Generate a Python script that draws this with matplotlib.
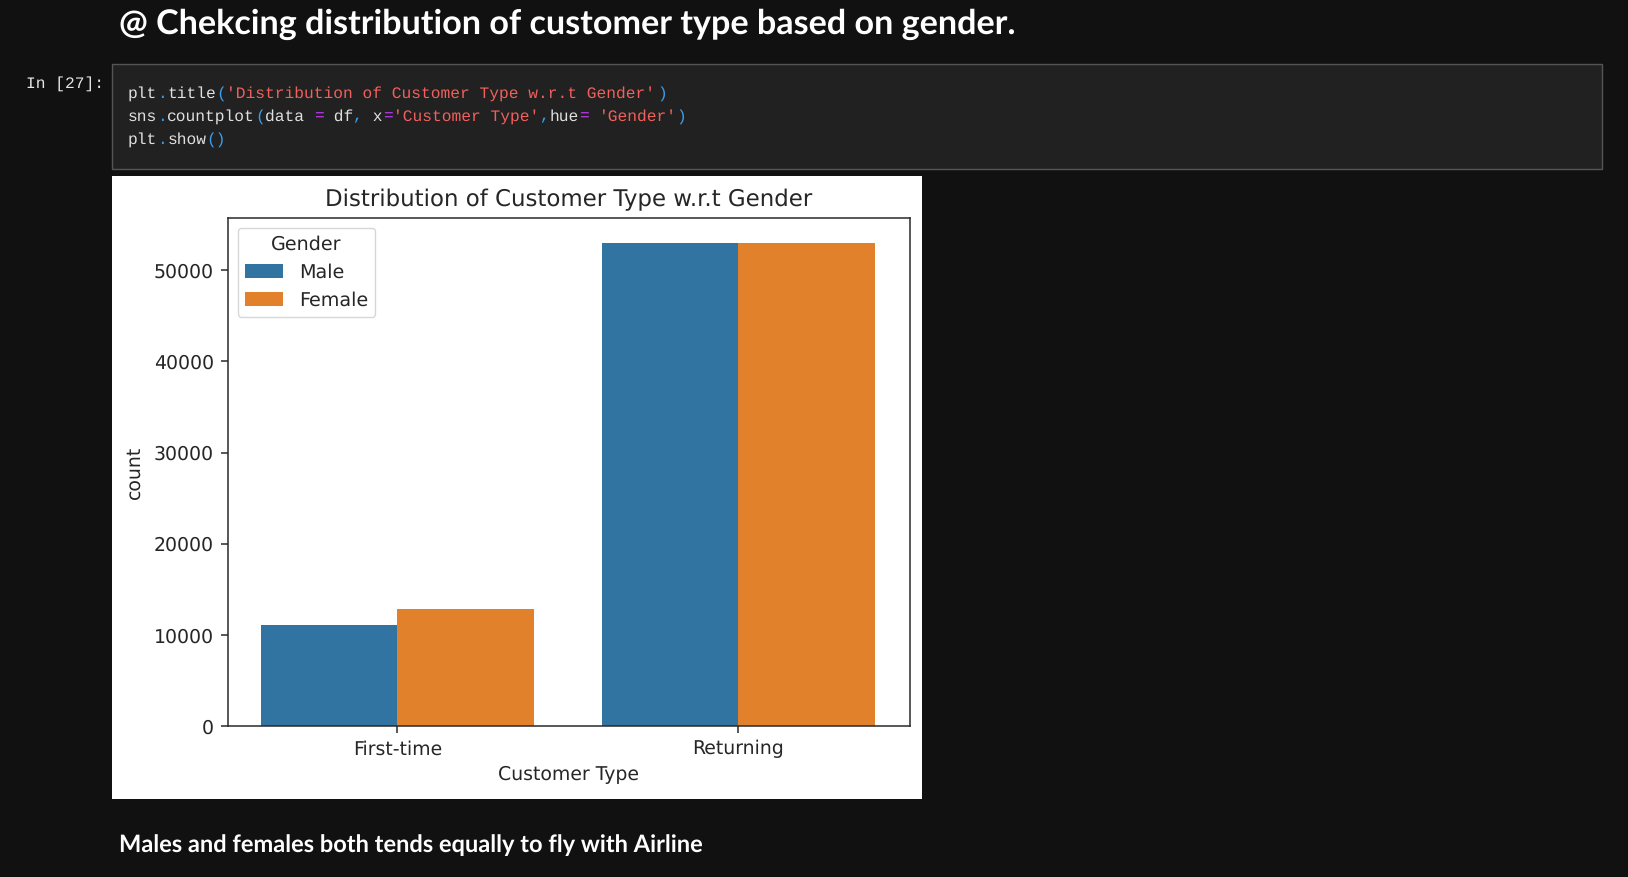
import matplotlib
matplotlib.use('Agg')
import matplotlib.pyplot as plt
from matplotlib.patches import Rectangle
import numpy as np

plt.rcParams['text.hinting'] = 'no_hinting'

# Sample data
customer_types = ['First-time', 'Returning']
male_counts = [11050, 53000]
female_counts = [12800, 53000]
y_ticks = [0, 10000, 20000, 30000, 40000, 50000]

heading = '@ Chekcing distribution of customer type based on gender.'
comment = 'Males and females both tends equally to fly with Airline'

TXT = '#e0e0e0'
BLUE = '#3b9eea'
RED = '#f0605c'
PURPLE = '#c23cf5'
INK = '#262626'

# code cell, split in (text, colour) tokens
code_lines = [
    [('plt', TXT), ('.', BLUE), ('title', TXT), ('(', BLUE),
     ("'Distribution of Customer Type w.r.t Gender'", RED), (')', BLUE)],
    [('sns', TXT), ('.', BLUE), ('countplot', TXT), ('(', BLUE), ('data ', TXT), ('=', PURPLE),
     (' df', TXT), (',', BLUE), (' x', TXT), ('=', PURPLE), ("'Customer Type'", RED), (',', BLUE),
     ('hue', TXT), ('=', PURPLE), (' ', TXT), ("'Gender'", RED), (')', BLUE)],
    [('plt', TXT), ('.', BLUE), ('show', TXT), ('()', BLUE)],
]

W, H = 1628, 877
fig = plt.figure(figsize=(W / 100, H / 100), dpi=100, facecolor='#111111')


def draw_page():
    """Notebook page around the chart, in pixel coordinates."""
    page = fig.add_axes([0, 0, 1, 1])
    page.set_xlim(0, W)
    page.set_ylim(H, 0)
    page.axis('off')

    page.add_patch(Rectangle((112, 64), 1490, 105, facecolor='#212121', edgecolor='#555555', lw=1))
    page.add_patch(Rectangle((112, 176), 810, 623, facecolor='white', edgecolor='none'))

    page.text(119, 24, heading, color='white', fontsize=24.6, family='Lato',
              fontweight='bold', va='center')
    page.text(119, 845, comment, color='white', fontsize=17, family='Lato',
              fontweight='bold', va='center')
    page.text(26, 84, 'In [27]:', color='#e6e6e6', fontsize=11.7, family='Liberation Mono', va='center')

    char_w = 9.8
    for line, y in zip(code_lines, [94, 116.5, 139.5]):
        x = 128
        for token, colour in line:
            page.text(x, y, token, color=colour, fontsize=11.7, family='Liberation Mono', va='center')
            x += len(token) * char_w


def draw_chart():
    ax = fig.add_axes([228 / W, 1 - 726.3 / H, 682 / W, 508.3 / H])
    x_pos = np.arange(len(customer_types))
    width = 0.4
    ax.bar(x_pos - width / 2, male_counts, width, color='#3274a1', label='Male')
    ax.bar(x_pos + width / 2, female_counts, width, color='#e1812c', label='Female')
    ax.set_xlim(-0.497, 1.503)
    ax.set_ylim(0, 55700)
    ax.set_xticks(x_pos)
    ax.set_xticklabels(customer_types)
    ax.set_yticks(y_ticks)
    ax.set_xlabel('Customer Type', fontsize=13.6, color=INK, labelpad=5)
    ax.set_ylabel('count', fontsize=13.6, color=INK, labelpad=7)
    ax.set_title('Distribution of Customer Type w.r.t Gender', fontsize=16.5, pad=8.5, color=INK)
    ax.tick_params(labelsize=13.6, length=4.8, width=1.1, color='#2a2a2a', labelcolor=INK)
    ax.tick_params(axis='x', pad=5)
    ax.tick_params(axis='y', pad=5.5)
    for spine in ax.spines.values():
        spine.set_linewidth(1.1)
        spine.set_color('#2a2a2a')
    leg = ax.legend(title='Gender', loc='upper left', fontsize=13.75, title_fontsize=13.75,
                    labelcolor=INK)
    leg.get_title().set_color(INK)


draw_page()
draw_chart()
fig.savefig('out.png', dpi=100, facecolor=fig.get_facecolor())
